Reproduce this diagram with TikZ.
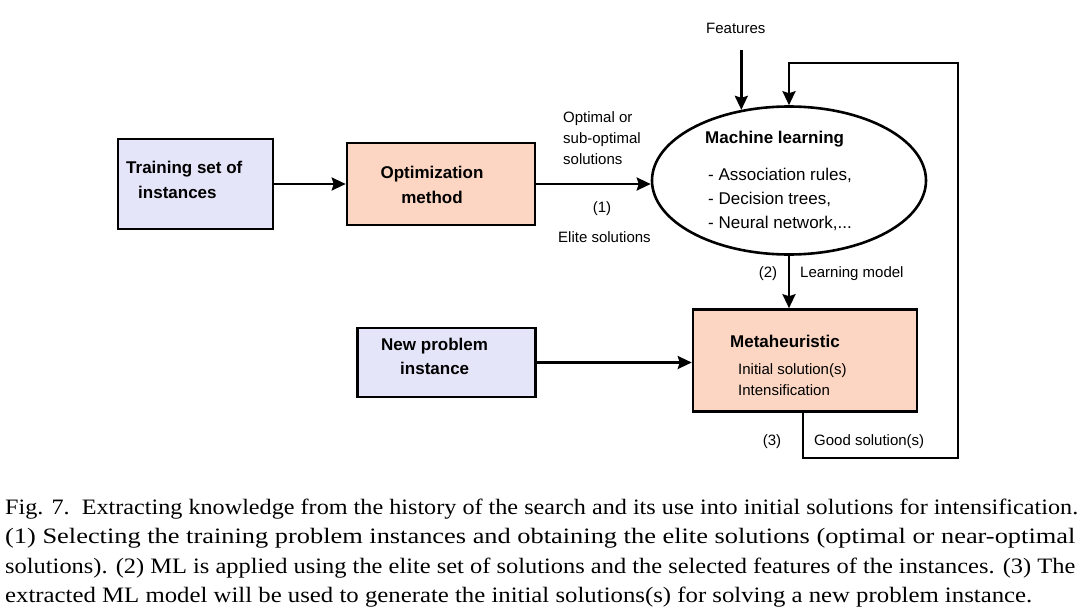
\documentclass[tikz,border=0pt]{standalone}
\usepackage{fontspec}
\setmainfont{Liberation Serif}
\setsansfont{Liberation Sans}
\usepackage{graphicx}
\usetikzlibrary{arrows.meta,shapes.geometric}
\definecolor{lav}{RGB}{229,229,250}
\definecolor{peach}{RGB}{252,214,194}
\begin{document}
\begin{tikzpicture}[x=1pt,y=-1pt,
 box/.style={draw, line width=2.6pt, rectangle, inner sep=0pt},
 arr/.style={line width=2.5pt, -{Stealth[length=14pt,width=13pt,inset=2pt]}},
 lbl/.style={font=\sffamily\fontsize{15}{18}\selectfont, anchor=base west, inner sep=0pt},
 bl/.style={font=\sffamily\bfseries\fontsize{17}{20}\selectfont, anchor=base west, inner sep=0pt},
 itm/.style={font=\sffamily\fontsize{17}{20}\selectfont, anchor=base west, inner sep=0pt},
 captxt/.style={font=\fontsize{22}{26}\selectfont, anchor=base west, inner sep=0pt}]
\useasboundingbox (0,0) rectangle (1080,616);
\fill[white] (0,0) rectangle (1080,616);

% boxes
\node[box, fill=lav, minimum width=155pt, minimum height=90pt] (train) at (195.5,184) {};
\node[bl] (t1) at (126,173) {Training set of};
\node[bl] (t2) at (138,198) {instances};

\node[box, fill=peach, minimum width=188pt, minimum height=82pt] (opt) at (441,184) {};
\node[bl, anchor=base] (o1) at (432,178) {Optimization};
\node[bl, anchor=base] (o2) at (432,203) {method};

\node[draw, ellipse, line width=2.6pt, minimum width=274pt, minimum height=148pt, inner sep=0pt] (ml) at (789,180.5) {};
\node[bl] (m0) at (705,143) {Machine learning};
\node[itm] (m1) at (708,180) {- Association rules,};
\node[itm] (m2) at (708,204) {- Decision trees,};
\node[itm] (m3) at (708,228) {- Neural network,...};

\node[lbl] (s1) at (563,122) {Optimal or};
\node[lbl] (s2) at (563,143) {sub-optimal};
\node[lbl] (s3) at (563,164) {solutions};
\node[lbl, anchor=base] (n1) at (602,212) {(1)};
\node[lbl] (el) at (558,242) {Elite solutions};
\node[lbl] (feat) at (706,33) {Features};
\node[lbl, anchor=base] (n2) at (768,277) {(2)};
\node[lbl] (lm) at (800,277) {Learning model};

\node[box, fill=lav, minimum width=178pt, minimum height=69pt] (new) at (446.5,362.5) {};
\node[bl] (p1) at (381,350) {New problem};
\node[bl] (p2) at (400,374) {instance};

\node[box, fill=peach, minimum width=224pt, minimum height=102pt] (meta) at (805,360.5) {};
\node[bl] (h0) at (730,347) {Metaheuristic};
\node[lbl] (h1) at (738,374) {Initial solution(s)};
\node[lbl] (h2) at (738,395) {Intensification};
\node[lbl, anchor=base] (n3) at (772,445) {(3)};
\node[lbl] (gs) at (814,445) {Good solution(s)};

% connectors
\draw[arr] (train.east) -- (opt.west);
\draw[arr] (opt.east) -- (opt.east -| ml.west);
\coordinate (fs) at (742,50);
\draw[arr] (ml.124 |- fs) -- (ml.124);
\draw[arr] (ml.south) -- (meta.north -| ml.south);
\draw[arr] (new.east) -- (meta.west |- new.east);
\coordinate (l1) at (803,458);
\coordinate (l2) at (958,63);
\draw[arr] (meta.south -| l1) -- (l1) -| (l2) -- (l2 -| ml.north) -- (ml.north);

% caption
\node[captxt] (c1) at (5,514) {\resizebox{1073pt}{22pt}{\rule{0pt}{22pt}Fig. 7.\enspace Extracting knowledge from the history of the search and its use into initial solutions for intensification.}};
\node[captxt] (c2) at (5,543.5) {\resizebox{1070pt}{22pt}{\rule{0pt}{22pt}(1) Selecting the training problem instances and obtaining the elite solutions (optimal or near-optimal}};
\node[captxt] (c3) at (5,573) {\resizebox{1070pt}{22pt}{\rule{0pt}{22pt}solutions). (2) ML is applied using the elite set of solutions and the selected features of the instances. (3) The}};
\node[captxt] (c4) at (5,602.5) {\resizebox{1027pt}{22pt}{\rule{0pt}{22pt}extracted ML model will be used to generate the initial solutions(s) for solving a new problem instance.}};
\end{tikzpicture}
\end{document}
